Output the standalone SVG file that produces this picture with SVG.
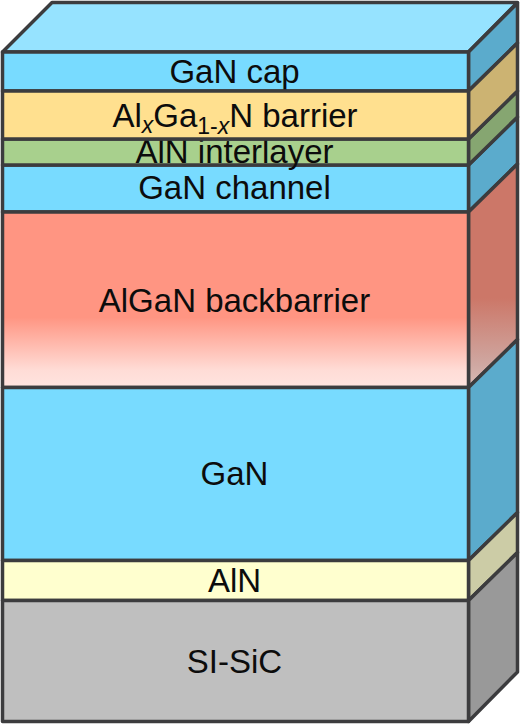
<svg xmlns="http://www.w3.org/2000/svg" width="520" height="724" viewBox="0 0 520 724">
<style>
.l{stroke:#3c3c3e;stroke-width:3.5;stroke-linejoin:round}
text{font-family:"Liberation Sans",Arial,sans-serif;font-size:33px;fill:#0c0c0c;text-anchor:middle}
.s{font-size:23px}
.i{font-style:italic}
</style>
<defs>
<linearGradient id="rf" x1="0" y1="0" x2="0" y2="1"><stop offset="0" stop-color="#ff9582"/><stop offset="0.6" stop-color="#ff9582"/><stop offset="0.9" stop-color="#ffdcd6"/><stop offset="1" stop-color="#ffe4df"/></linearGradient>
<linearGradient id="rs" x1="0" y1="0" x2="0" y2="1"><stop offset="0" stop-color="#cc7768"/><stop offset="0.6" stop-color="#cc7768"/><stop offset="0.9" stop-color="#cfa8a2"/><stop offset="1" stop-color="#d8bcb6"/></linearGradient>
</defs>
<rect width="520" height="724" fill="#fff"/>
<g id="top"><polygon class="l" points="2.5,52 52,2.5 517.5,2.5 468.5,52" fill="#96e3ff"/></g>
<g id="gan-cap"><polygon class="l" points="468.5,52 517.5,3 517.5,43 468.5,91" fill="#5babcc"/><rect class="l" x="2.5" y="52" width="466" height="39" fill="#78dbff"/><text x="234.5" y="83">GaN cap</text></g>
<g id="gan-channel"><polygon class="l" points="468.5,165 517.5,117 517.5,164 468.5,212" fill="#5babcc"/><rect class="l" x="2.5" y="165" width="466" height="47" fill="#78dbff"/><text x="234.5" y="199">GaN channel</text></g>
<g id="interlayer"><polygon class="l" points="468.5,139 517.5,91 517.5,117 468.5,165" fill="#86a671"/><rect class="l" x="2.5" y="139" width="466" height="26" fill="#a8d08d"/><text x="234.5" y="163">AlN interlayer</text></g>
<g id="barrier"><polygon class="l" points="468.5,91 517.5,43 517.5,91 468.5,139" fill="#ccb372"/><rect class="l" x="2.5" y="91" width="466" height="48" fill="#ffe08f" fill-opacity="1"/><text x="235" y="127">Al<tspan class="s i" dy="6">x</tspan><tspan dy="-6">Ga</tspan><tspan class="s" dy="7">1-</tspan><tspan class="s i">x</tspan><tspan dy="-7">N barrier</tspan></text></g>
<g id="backbarrier"><polygon class="l" points="468.5,212 517.5,164 517.5,339.5 468.5,387.5" fill="url(#rs)"/><rect class="l" x="2.5" y="212" width="466" height="175.5" fill="url(#rf)"/><text x="234.5" y="312">AlGaN backbarrier</text></g>
<g id="gan"><polygon class="l" points="468.5,387.5 517.5,339.5 517.5,512.5 468.5,560.5" fill="#5babcc"/><rect class="l" x="2.5" y="387.5" width="466" height="173" fill="#78dbff"/><text x="234.5" y="485">GaN</text></g>
<g id="aln"><polygon class="l" points="468.5,560.5 517.5,512.5 517.5,552.5 468.5,600.5" fill="#cccca6"/><rect class="l" x="2.5" y="560.5" width="466" height="40" fill="#ffffcf"/><text x="234.5" y="592">AlN</text></g>
<g id="sic"><polygon class="l" points="468.5,600.5 517.5,552.5 517.5,672 468.5,721.5" fill="#999999"/><rect class="l" x="2.5" y="600.5" width="466" height="121" fill="#bfbfbf"/><text x="234.5" y="673">SI-SiC</text></g>
<g id="connectors"/>
</svg>
